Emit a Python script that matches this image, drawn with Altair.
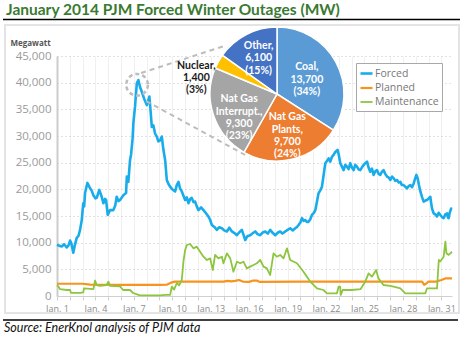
import math
import altair as alt
import pandas as pd

# ---------------- data ----------------
forced_day = [1.00, 1.20, 1.39, 1.55, 1.76, 1.90, 2.02, 2.12, 2.27, 2.40, 2.54, 2.68, 2.80, 2.93, 3.05, 3.12,
              3.19, 3.37, 3.58, 3.70, 3.84, 4.00, 4.10, 4.30, 4.49, 4.62, 4.75, 4.83, 4.96, 5.14, 5.40, 5.55,
              5.66, 5.80, 5.92, 6.18, 6.39, 6.45, 6.57, 6.70, 6.78, 6.84, 6.90, 6.96, 7.09, 7.23, 7.35, 7.48,
              7.62, 7.80, 8.01, 8.21, 8.31, 8.40, 8.52, 8.65, 8.79, 8.91, 9.05, 9.18, 9.30, 9.44, 9.57, 9.70,
              9.83, 10.00, 10.22, 10.35, 10.48, 10.60, 10.74, 10.87, 11.00, 11.13, 11.26, 11.40, 11.52, 11.65,
              11.78, 11.91, 12.04, 12.25, 12.43, 12.60, 12.82, 12.95, 13.09, 13.30, 13.48, 13.65, 13.87, 14.05,
              14.26, 14.45, 14.65, 14.85, 15.04, 15.25, 15.43, 15.55, 15.69, 15.85, 16.08, 16.30, 16.47, 16.65,
              16.86, 17.05, 17.25, 17.45, 17.64, 17.85, 18.03, 18.25, 18.42, 18.60, 18.81, 19.00, 19.20, 19.40,
              19.59, 19.72, 19.85, 20.00, 20.12, 20.25, 20.38, 20.50, 20.63, 20.77, 20.90, 21.05, 21.16, 21.30,
              21.41, 21.55, 21.68, 21.80, 21.94, 22.07, 22.20, 22.33, 22.46, 22.60, 22.72, 22.90, 23.00, 23.11,
              23.25, 23.37, 23.50, 23.63, 23.76, 23.89, 24.02, 24.15, 24.28, 24.41, 24.55, 24.67, 24.85, 25.06,
              25.20, 25.32, 25.45, 25.58, 25.71, 25.85, 25.98, 26.10, 26.23, 26.36, 26.49, 26.62, 26.76, 26.90,
              27.02, 27.15, 27.27, 27.40, 27.54, 27.67, 27.80, 27.92, 28.05, 28.18, 28.32, 28.45, 28.58, 28.71,
              28.84, 28.95, 29.05, 29.15, 29.25, 29.36, 29.50, 29.62, 29.75, 29.88, 30.01, 30.14, 30.20, 30.27,
              30.40, 30.53, 30.66, 30.79, 30.92, 31.05, 31.18, 31.31, 31.45, 31.51, 31.57, 31.65, 31.76, 31.83]
forced_mw = [9600, 9400, 9300, 9700, 9100, 9500, 10400, 9900, 8100, 9600, 10900, 11300, 12400, 14200, 17400, 16800,
             19300, 21200, 20200, 19800, 18900, 18300, 18400, 19900, 18600, 17400, 18200, 18000, 15200, 16100, 16100, 17000,
             18600, 17800, 18000, 18900, 19300, 22400, 21400, 25500, 26500, 28000, 29500, 32400, 35500, 39900, 40500, 39200,
             38300, 37000, 35800, 37400, 34500, 31700, 32000, 30500, 29900, 29000, 29200, 29900, 27500, 25500, 21750, 21000,
             20500, 20000, 19600, 20800, 21400, 20200, 19600, 18800, 18000, 18500, 17400, 18200, 18400, 17600,
             17700, 16800, 16100, 16600, 16100, 15600, 14900, 14300, 13300, 12900, 12400, 12900, 12700, 12300,
             12100, 12800, 12100, 11800, 11400, 12000, 12400, 11500, 10500, 11200, 11400, 11800, 12100, 11600,
             11400, 11900, 12100, 11700, 12400, 11800, 11400, 11900, 12100, 11700, 12100, 12400, 12700, 12300,
             12700, 12900, 13300, 13800, 14600, 14100, 14250, 13900, 13900, 14400, 15200, 15600, 16100, 17800,
             19250, 19800, 20500, 22500, 24900, 25300, 25800, 25200, 26100, 26500, 27000, 27400, 26400, 24900,
             24200, 23600, 24600, 24250, 23800, 24900, 24100, 23600, 24600, 24250, 23700, 23600, 24300, 24900,
             25200, 24100, 23300, 23900, 22700, 23400, 23600, 22900, 22700, 23300, 23600, 22900, 22400, 22200,
             21750, 22400, 22100, 21600, 21750, 21300, 21400, 20800, 20800, 20500, 20200, 20600, 20800, 20400,
             21100, 22000, 22700, 22100, 20800, 19600, 18500, 17700, 17900, 18000, 18300, 18600, 17500, 16400,
             15500, 15300, 14900, 15600, 15200, 14800, 14600, 15300, 15500, 14700, 14600, 15600, 16400, 16300]

planned_day = [1.0, 3.0, 3.6, 6.0, 9.0, 9.6, 9.9, 10.2, 12.0, 14.0, 14.3, 14.6, 14.9, 15.2, 15.5, 16.0, 16.3,
               16.6, 16.8, 20.0, 25.0, 29.5, 29.65, 29.8, 30.0, 30.6, 31.0, 31.3, 31.83]
planned_mw = [2300, 2300, 2150, 2100, 2100, 2150, 2500, 2700, 2700, 2700, 2850, 2750, 2850, 3000, 2700, 2650, 2900,
              2900, 2650, 2700, 2700, 2700, 2100, 2300, 2700, 2700, 3000, 3300, 3300]

maint_day = [1.00, 1.12, 1.23, 1.76, 2.02, 2.09, 2.80, 3.05, 3.11, 3.84, 3.97, 4.10, 4.36, 4.88, 5.01, 5.14, 5.92,
             6.16, 6.70, 6.94, 7.25, 7.48, 9.05, 9.44, 9.83, 9.96, 10.14, 10.35, 10.53, 10.74, 10.87, 11.00, 11.13,
             11.39, 11.65, 11.91, 12.17, 12.43, 12.70, 12.95, 13.16, 13.34, 13.60, 13.87, 13.99, 14.26, 14.52, 14.77,
             15.04, 15.30, 15.55, 15.82, 16.08, 16.34, 16.60, 16.86, 17.12, 17.38, 17.64, 17.90, 18.16, 18.42, 18.68,
             18.95, 19.20, 19.73, 20.24, 20.77, 21.29, 21.80, 22.07, 22.60, 22.85, 22.98, 23.10, 23.15, 23.30, 24.00,
             24.70, 25.06, 25.32, 25.58, 25.91, 26.09, 26.48, 27.00, 27.27, 27.80, 28.19, 29.75, 29.88, 30.66, 30.80,
             30.92, 31.18, 31.31, 31.40, 31.57, 31.70, 31.83]
maint_mw = [2000, 1750, 1300, 1125, 1125, 600, 600, 700, 1440, 1300, 2900, 2060, 1900, 2060, 2700, 1900, 1800,
            1125, 1125, 560, 300, 100, 100, 200, 200, 1750, 1200, 2440, 2000, 3000, 6500, 8600, 9560,
            9750, 8940, 9250, 8300, 7370, 6750, 7060, 4875, 7700, 7060, 7370, 6130, 8000, 7060, 4560,
            6430, 6130, 6430, 5190, 5500, 5810, 6130, 6750, 5500, 5190, 3940, 8000, 7370, 7690, 7060,
            8940, 6750, 6130, 4560, 2690, 1440, 1125, 500, 500, 500, 1750, 1750, 190, 1125, 1125,
            1300, 2690, 4250, 3625, 4875, 3300, 2060, 1900, 1750, 1440, 500, 500, 1440, 1440, 6750,
            6500, 7370, 10200, 8000, 7700, 8000, 8300]

series_names = ["Forced", "Planned", "Maintenance"]
series_colors = ["#19ACEA", "#F7941D", "#8CC63F"]
series_widths = [2.6, 1.8, 1.5]

pie_sources = ["Coal", "Nat Gas Plants", "Nat Gas Interrupt.", "Nuclear", "Other"]
pie_mw = [13700, 9700, 9300, 1400, 6100]
pie_pct = [34, 24, 23, 3, 15]
pie_name_lines = [["Coal,"], ["Nat Gas", "Plants,"], ["Nat Gas", "Interrupt.,"], ["Nuclear,"], ["Other,"]]
pie_colors = ["#5B9BD5", "#ED7D31", "#A5A5A5", "#FFC000", "#4472C4"]

x_tick_days = list(range(1, 32))
y_ticks = list(range(0, 45001, 5000))

# peak highlight (dashed circle) and the zoom lines to the pie
peak_day, peak_mw = [7.25], [39600]
zoom_from_day = [7.56, 7.95]
zoom_from_mw = [41800, 36560]
zoom_to_day = [14.05, 15.69]
zoom_to_mw = [46875, 26440]

title_text = "January 2014 PJM Forced Winter Outages (MW)"
source_text = "Source: EnerKnol analysis of PJM data"

# ---------------- tables ----------------
lines_df = pd.concat([
    pd.DataFrame({"series": "Forced", "day": forced_day, "mw": forced_mw}),
    pd.DataFrame({"series": "Planned", "day": planned_day, "mw": planned_mw}),
    pd.DataFrame({"series": "Maintenance", "day": maint_day, "mw": maint_mw}),
], ignore_index=True)

total = sum(pie_mw)
cum = 0
starts, ends, mids, labels = [], [], [], []
for name_lines, v, p in zip(pie_name_lines, pie_mw, pie_pct):
    starts.append(cum)
    mids.append(cum + v / 2)
    cum += v
    ends.append(cum)
    labels.append("\n".join(name_lines + [f"{v:,}", f"({p}%)"]))
pie_df = pd.DataFrame({"source": pie_sources, "mw": pie_mw, "start": starts, "end": ends,
                       "mid": mids, "label": labels})

W, H = 395, 240
PIE_X, PIE_Y, PIE_R = 220, 38, 67
AX_FONT = "Open Sans"
LBL_FONT = "Lato"
LH = 12.3

x_axis = alt.Axis(values=x_tick_days,
                  labelExpr="((datum.value - 1) % 3 == 0) ? 'Jan. ' + datum.value : ''",
                  grid=True, gridColor="#f0f0f0", gridWidth=1,
                  domainColor="#d0d0d0", tickColor="#d0d0d0", tickSize=4,
                  labelFont=AX_FONT, labelFontSize=9, labelColor="#8c8c8c", labelPadding=4,
                  labelFlush=False, labelOverlap=False, title=None)
y_axis = alt.Axis(values=y_ticks, format=",.0f", title="Megawatt", titleAngle=0, titleX=-47, titleY=-13,
                  titleAlign="left", titleBaseline="middle", titleFont=AX_FONT, titleFontSize=8,
                  titleFontWeight="bold", titleColor="#555555",
                  labelFont=AX_FONT, labelFontSize=11.5, labelColor="#9a9a9a", labelPadding=6,
                  ticks=False, domainColor="#cccccc", domainWidth=2,
                  grid=True, gridColor="#c4c4c4", gridDash=[1, 3], gridWidth=1)
x_scale = alt.Scale(domain=[1, 31.83], nice=False, zero=False)
y_scale = alt.Scale(domain=[0, 45000], nice=False)


def X(field):
    return alt.X(f"{field}:Q", scale=x_scale, axis=x_axis)


def Y(field):
    return alt.Y(f"{field}:Q", scale=y_scale, axis=y_axis)


dummy = pd.DataFrame({"k": [0]})

box = alt.Chart(dummy).mark_rect(fillOpacity=0, stroke="#e4e4e4", strokeWidth=2).encode(
    x=alt.value(-52), x2=alt.value(402), y=alt.value(-31), y2=alt.value(257))

lines = alt.Chart(lines_df).mark_line(strokeJoin="round").encode(
    x=X("day"), y=Y("mw"),
    color=alt.Color("series:N", scale=alt.Scale(domain=series_names, range=series_colors),
                    legend=alt.Legend(title=None, orient="none", legendX=299, legendY=7,
                                      direction="vertical", symbolType="stroke", symbolSize=144,
                                      symbolStrokeWidth=2.5, labelFont=AX_FONT, labelFontSize=10.5,
                                      labelColor="#777777", strokeColor="#a8a8a8", fillColor="white",
                                      padding=3, rowPadding=1.5, labelOffset=1, labelLimit=120)),
    strokeWidth=alt.StrokeWidth("series:N", scale=alt.Scale(domain=series_names, range=series_widths),
                                legend=None),
)

circle = alt.Chart(pd.DataFrame({"day": peak_day, "mw": peak_mw})).mark_point(
    shape="circle", size=470, filled=False, stroke="#bdbdbd", strokeWidth=2.5, strokeDash=[4, 3],
    opacity=1).encode(x=X("day"), y=Y("mw"))

zoom_lines = alt.Chart(pd.DataFrame({"day": zoom_from_day, "mw": zoom_from_mw,
                                     "day2": zoom_to_day, "mw2": zoom_to_mw})).mark_rule(
    color="#bdbdbd", strokeWidth=2, strokeDash=[5, 4]).encode(
    x=X("day"), y=Y("mw"), x2="day2:Q", y2="mw2:Q")

theta_scale = alt.Scale(domain=[0, total], range=[0, 2 * math.pi])

arcs = alt.Chart(pie_df).mark_arc(outerRadius=PIE_R, stroke="white", strokeWidth=1.5).encode(
    theta=alt.Theta("start:Q", scale=theta_scale, stack=None), theta2="end:Q",
    fill=alt.Fill("source:N", scale=alt.Scale(domain=pie_sources, range=pie_colors), legend=None),
    x=alt.value(PIE_X), y=alt.value(PIE_Y))


def slice_label(name, radius, color, n_lines, dx=0, dy=0):
    # first line sits at the anchor: shift the block up to centre it
    return alt.Chart(pie_df).transform_filter(alt.datum.source == name).mark_text(
        radius=radius, dx=dx, dy=dy - (n_lines - 1) * LH / 2, lineBreak="\n", lineHeight=LH,
        font=LBL_FONT, fontSize=10.5, fontWeight="bold", color=color, align="center",
        baseline="middle").encode(
        theta=alt.Theta("mid:Q", scale=theta_scale, stack=None), text="label:N",
        x=alt.value(PIE_X), y=alt.value(PIE_Y))


labels_layers = [
    slice_label("Coal", 34, "white", 3, dy=2),
    slice_label("Nat Gas Plants", 43, "white", 4),
    slice_label("Nat Gas Interrupt.", 40, "white", 4, dy=11),
    slice_label("Other", 40, "white", 3),
    slice_label("Nuclear", 82, "#1a1a1a", 3, dx=-9, dy=24),
]

title = alt.Chart(pd.DataFrame({"t": [title_text]})).mark_text(
    align="left", baseline="alphabetic", font=LBL_FONT, fontSize=15.5, fontWeight="bold",
    color="#3A7A32").encode(x=alt.value(-51), y=alt.value(-41.5), text="t:N")

top_rule = alt.Chart(dummy).mark_rule(color="black", strokeWidth=1.5).encode(
    x=alt.value(-54), x2=alt.value(403), y=alt.value(-36.5))
bottom_rule = alt.Chart(dummy).mark_rule(color="black", strokeWidth=1.5).encode(
    x=alt.value(-54), x2=alt.value(401), y=alt.value(264))

source = alt.Chart(pd.DataFrame({"t": [source_text]})).mark_text(
    align="left", baseline="alphabetic", font=LBL_FONT, fontSize=12.5, fontStyle="italic",
    color="#111111").encode(x=alt.value(-53), y=alt.value(276), text="t:N")

chart = alt.layer(box, lines, zoom_lines, circle, arcs, *labels_layers, title, top_rule, bottom_rule,
                  source).properties(
    width=W, height=H, autosize="none",
    padding={"left": 57, "top": 56, "right": 16, "bottom": 44},
    background="white",
).configure_view(stroke=None)

chart.save("out.html", embed_options={"renderer": "svg", "actions": False})
